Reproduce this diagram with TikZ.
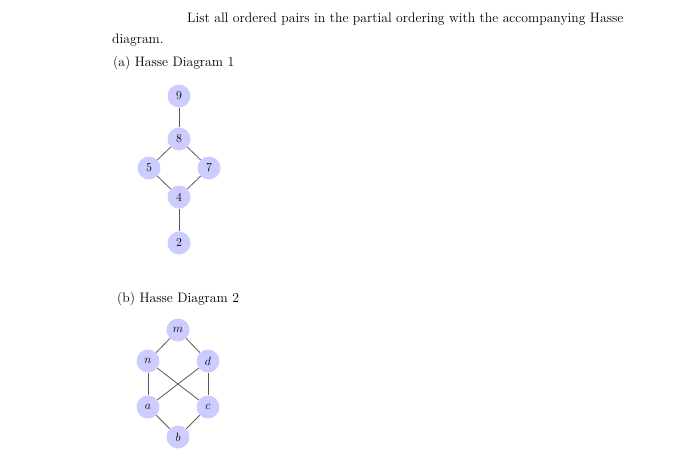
\documentclass[tikz,border=0pt]{standalone}
\begin{document}
\begin{tikzpicture}[x=1pt,y=-1pt,
  vtx/.style={circle,fill=blue!20,minimum size=23pt,inner sep=0pt,font=\fontsize{12}{14}\selectfont},
  edge/.style={draw=black!65,line width=0.8pt},
  txt/.style={anchor=base west,inner sep=0pt,font=\fontsize{13.7}{16}\selectfont}]
\useasboundingbox (0,0) rectangle (700,467);
\node[txt] (t1) at (187,22) {List all ordered pairs in the partial ordering with the accompanying Hasse};
\node[txt] (t2) at (112,43) {diagram.};
\node[txt] (t3) at (113,66) {(a) Hasse Diagram 1};
\node[txt] (t4) at (117,302) {(b) Hasse Diagram 2};
% diagram 1
\node[vtx] (n9) at (179,96) {9};
\node[vtx] (n8) at (179,139) {8};
\node[vtx] (n5) at (149,168) {5};
\node[vtx] (n7) at (209,168) {7};
\node[vtx] (n4) at (179,197) {4};
\node[vtx] (n2) at (179,243) {2};
\draw[edge] (n9) -- (n8);
\draw[edge] (n8) -- (n5);
\draw[edge] (n8) -- (n7);
\draw[edge] (n5) -- (n4);
\draw[edge] (n7) -- (n4);
\draw[edge] (n4) -- (n2);
% diagram 2
\node[vtx] (m) at (178,330) {$m$};
\node[vtx] (n) at (148,361) {$n$};
\node[vtx] (d) at (208,361) {$d$};
\node[vtx] (a) at (148,407) {$a$};
\node[vtx] (c) at (208,407) {$c$};
\node[vtx] (b) at (178,437) {$b$};
\draw[edge] (m) -- (n);
\draw[edge] (m) -- (d);
\draw[edge] (n) -- (a);
\draw[edge] (n) -- (c);
\draw[edge] (d) -- (a);
\draw[edge] (d) -- (c);
\draw[edge] (a) -- (b);
\draw[edge] (c) -- (b);
\end{tikzpicture}
\end{document}
